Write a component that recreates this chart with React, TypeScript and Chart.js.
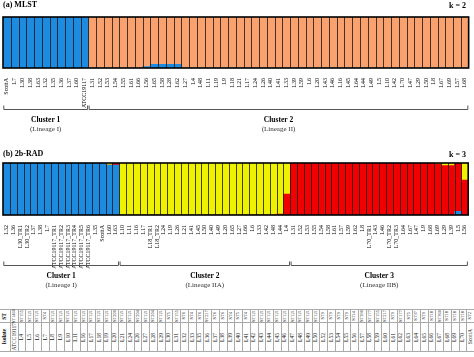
import React, { useEffect, useRef } from "react";
import { Chart, registerables } from "chart.js";
Chart.register(...registerables);

const FONT = '"Liberation Serif", "Times New Roman", Times, serif';
const BLUE = "#1C8BE0";
const ORANGE = "#F9A26F";
const YELLOW = "#EEF200";
const RED = "#F00000";

// ---------- (a) MLST, k = 2 ----------
const mlstLabels = [
  "ScottA", "L7", "L30", "L38", "L63", "L32", "L35", "L36", "L37", "L60", "ATCC19117",
  "L31", "L52", "L53", "L54", "L55", "L61", "L66", "L56", "L65", "L58", "L28", "L62", "L27",
  "L4", "L48", "L11", "L19", "L9", "L18", "L21", "L17", "L24", "L26", "L40", "L41", "L33",
  "L39", "L59", "L6", "L20", "L43", "L46", "L16", "L45", "L64", "L44", "L49", "L5", "L10",
  "L42", "L70", "L47", "L29", "L50", "L8", "L67", "L69", "L57", "L68",
];
const mlstBlue = [
  100, 100, 100, 100, 100, 100, 100, 100, 100, 100, 100,
  0, 0, 0, 0, 0, 0, 0, 3, 7, 7, 7, 7, 0,
  0, 0, 0, 0, 0, 0, 0, 0, 0, 0, 0, 0, 0,
  0, 0, 0, 0, 0, 0, 0, 0, 0, 0, 0, 0, 0,
  0, 0, 0, 0, 0, 0, 0, 0, 0, 0,
];
const mlstOrange = [
  0, 0, 0, 0, 0, 0, 0, 0, 0, 0, 0,
  100, 100, 100, 100, 100, 100, 100, 97, 93, 93, 93, 93, 100,
  100, 100, 100, 100, 100, 100, 100, 100, 100, 100, 100, 100, 100,
  100, 100, 100, 100, 100, 100, 100, 100, 100, 100, 100, 100, 100,
  100, 100, 100, 100, 100, 100, 100, 100, 100, 100,
];

// ---------- (b) 2b-RAD, k = 3 ----------
const radLabels = [
  "L32", "L36", "L30_TR1", "L30_TR2", "L37", "L38", "L7", "ATCC19117_TR1", "ATCC19117_TR2",
  "ATCC19117_TR3", "ATCC19117_TR4", "ATCC19117_TR5", "ATCC19117_TR6", "L35", "ScottA", "L60", "L63",
  "L10", "L11", "L16", "L17", "L18_TR1", "L18_TR2", "L24", "L19", "L26", "L21", "L41", "L45",
  "L50", "L40", "L49", "L20", "L65", "L27", "L66", "L6", "L33", "L42", "L48", "L44", "L4",
  "L31", "L52", "L53", "L55", "L54", "L58", "L61", "L57", "L59", "L62", "L8", "L70_TR1", "L43",
  "L46", "L70_TR2", "L70_TR3", "L64", "L67", "L47", "L9", "L68", "L69", "L29", "L39", "L5", "L56",
];
const radBlue = [
  100, 100, 100, 100, 100, 100, 100, 100, 100, 100, 100, 100, 100, 100, 100, 96, 96,
  0, 0, 0, 0, 0, 0, 0, 0, 0, 0, 0, 0, 0, 0, 0, 0, 0, 0, 0, 0, 0, 0, 0, 0, 0,
  0, 0, 0, 0, 0, 0, 0, 0, 0, 0, 0, 0, 0, 0, 0, 0, 0, 0, 0, 0, 0, 0, 0, 0, 7, 0,
];
const radRed = [
  0, 0, 0, 0, 0, 0, 0, 0, 0, 0, 0, 0, 0, 0, 0, 0, 4,
  0, 0, 0, 0, 0, 0, 0, 0, 0, 0, 0, 0, 0, 0, 0, 0, 0, 0, 0, 0, 0, 0, 0, 2, 40,
  100, 100, 100, 100, 100, 100, 100, 100, 100, 100, 100, 100, 100, 100, 100, 100, 100, 100, 100, 100, 100, 98, 95, 95, 93, 67,
];
const radYellow = [
  0, 0, 0, 0, 0, 0, 0, 0, 0, 0, 0, 0, 0, 0, 0, 4, 0,
  100, 100, 100, 100, 100, 100, 100, 100, 100, 100, 100, 100, 100, 100, 100, 100, 100, 100, 100, 100, 100, 100, 100, 98, 60,
  0, 0, 0, 0, 0, 0, 0, 0, 0, 0, 0, 0, 0, 0, 0, 0, 0, 0, 0, 0, 0, 2, 5, 5, 0, 33,
];

// ---------- table ----------
const tableIsolates = [
  "ATCC19117", "L4", "L5", "L6", "L7", "L8", "L9", "L10", "L11", "L16", "L17", "L18", "L19", "L20",
  "L21", "L24", "L26", "L27", "L28", "L29", "L30", "L31", "L32", "L33", "L35", "L36", "L37", "L38",
  "L39", "L40", "L41", "L42", "L43", "L44", "L45", "L46", "L47", "L48", "L49", "L50", "L52", "L53",
  "L54", "L55", "L56", "L57", "L58", "L59", "L60", "L61", "L62", "L63", "L64", "L65", "L66", "L67",
  "L68", "L69", "L70", "ScottA",
];
const tableST = [
  "ST1460", "ST155", "ST121", "ST121", "ST4", "ST121", "ST121", "ST121", "ST121", "ST121", "ST121",
  "ST121", "ST121", "ST200", "ST121", "ST121", "ST204", "ST121", "ST204", "ST121", "ST5", "ST155",
  "ST6", "ST4", "ST6", "ST217", "ST6", "ST6", "ST4", "ST5", "ST4", "ST121", "ST121", "ST121", "ST121",
  "ST121", "ST121", "ST121", "ST121", "ST121", "ST9", "ST9", "ST9", "ST9", "ST14", "ST390", "ST177",
  "ST155", "ST217", "ST9", "ST177", "ST5", "ST37", "ST9", "ST18", "ST360", "ST18", "ST18", "ST18", "ST2",
];

type Cluster = { from: number; to: number; name: string; lineage: string };
const mlstClusters: Cluster[] = [
  { from: 0, to: 10, name: "Cluster 1", lineage: "(Lineage I)" },
  { from: 11, to: 59, name: "Cluster 2", lineage: "(Lineage II)" },
];
const radClusters: Cluster[] = [
  { from: 0, to: 16, name: "Cluster 1", lineage: "(Lineage I)" },
  { from: 17, to: 41, name: "Cluster 2", lineage: "(Lineage IIA)" },
  { from: 42, to: 67, name: "Cluster 3", lineage: "(Lineage IIB)" },
];

type PanelProps = {
  top: number;
  height: number;
  padTop: number;
  plotBottom: number;
  labels: string[];
  datasets: { data: number[]; color: string }[];
  title: string;
  k: string;
  titleY: number;
  clusters: Cluster[];
  bracketY: number;
};

function Panel(p: PanelProps) {
  const ref = useRef<HTMLCanvasElement>(null);
  useEffect(() => {
    const n = p.labels.length;
    const decor = {
      id: "decor",
      afterDatasetsDraw(chart: any) {
        const { ctx, chartArea: a } = chart;
        const x = chart.scales.x;
        const w = a.width / n;
        ctx.save();
        ctx.strokeStyle = "#1b1410";
        ctx.lineWidth = 0.8;
        for (let i = 1; i < n; i++) {
          const px = Math.round(x.getPixelForTick(i) - w / 2) + 0.5;
          ctx.beginPath();
          ctx.moveTo(px, a.top);
          ctx.lineTo(px, a.bottom);
          ctx.stroke();
        }
        ctx.lineWidth = 1.6;
        ctx.strokeStyle = "#000";
        ctx.strokeRect(a.left, a.top, a.width, a.height);
        ctx.restore();
      },
      afterDraw(chart: any) {
        const { ctx, chartArea: a } = chart;
        const x = chart.scales.x;
        const w = a.width / n;
        ctx.save();
        ctx.fillStyle = "#000";
        ctx.textBaseline = "middle";
        ctx.font = `bold 8px ${FONT}`;
        ctx.textAlign = "left";
        ctx.fillText(p.title, 3, p.titleY);
        ctx.textAlign = "right";
        ctx.fillText(p.k, 466, p.titleY + 1);
        ctx.strokeStyle = "#555";
        ctx.lineWidth = 1;
        p.clusters.forEach((c) => {
          const xl = x.getPixelForTick(c.from) - w / 2 + 0.8;
          const xr = x.getPixelForTick(c.to) + w / 2 - 0.8;
          const y = p.bracketY + 0.5;
          ctx.beginPath();
          ctx.moveTo(xl, y - 4);
          ctx.lineTo(xl, y);
          ctx.lineTo(xr, y);
          ctx.lineTo(xr, y - 4);
          ctx.stroke();
          const cx = (xl + xr) / 2;
          ctx.textAlign = "center";
          ctx.fillStyle = "#000";
          ctx.font = `bold 7.5px ${FONT}`;
          ctx.fillText(c.name, cx, p.bracketY + 11);
          ctx.fillStyle = "#333";
          ctx.font = `7px ${FONT}`;
          ctx.fillText(c.lineage, cx, p.bracketY + 20);
        });
        ctx.restore();
      },
    };
    const chart = new Chart(ref.current as HTMLCanvasElement, {
      type: "bar",
      data: {
        labels: p.labels,
        datasets: p.datasets.map((d, i) => ({
          label: "K" + (i + 1),
          data: d.data,
          backgroundColor: d.color,
          borderWidth: 0,
          barPercentage: 1,
          categoryPercentage: 1,
        })),
      },
      options: {
        responsive: false,
        animation: false,
        layout: { padding: { left: 3, right: 4, top: p.padTop, bottom: 0 } },
        plugins: { legend: { display: false }, tooltip: { enabled: false } },
        scales: {
          x: {
            stacked: true,
            grid: { display: false },
            border: { display: false },
            ticks: {
              autoSkip: false,
              minRotation: 90,
              maxRotation: 90,
              padding: 2,
              color: "#000",
              font: { family: FONT, size: 6 },
            },
            afterFit: (s: any) => {
              s.height = p.height - p.plotBottom;
            },
          },
          y: { stacked: true, display: false, min: 0, max: 100 },
        },
      } as any,
      plugins: [decor],
    });
    return () => chart.destroy();
  }, []);
  return (
    <canvas
      ref={ref}
      width={474}
      height={p.height}
      style={{ position: "absolute", left: 0, top: p.top, width: 474, height: p.height }}
    />
  );
}

const vText: React.CSSProperties = {
  writingMode: "vertical-rl",
  transform: "rotate(180deg)",
  whiteSpace: "nowrap",
  lineHeight: 1,
  fontFamily: FONT,
  color: "#222",
};

function Table() {
  const cellBorder = "1px solid #aaa";
  return (
    <div
      style={{
        position: "absolute",
        left: 0,
        top: 309,
        width: 474,
        height: 43,
        display: "flex",
        borderTop: cellBorder,
        borderBottom: cellBorder,
        boxSizing: "border-box",
      }}
    >
      <div style={{ width: 10, display: "flex", flexDirection: "column" }}>
        <div style={{ height: 12, display: "flex", alignItems: "center", justifyContent: "center", borderBottom: cellBorder }}>
          <span style={{ ...vText, fontSize: 5.5, fontWeight: "bold", color: "#000" }}>ST</span>
        </div>
        <div style={{ flex: 1, display: "flex", alignItems: "center", justifyContent: "center" }}>
          <span style={{ ...vText, fontSize: 5.5, fontWeight: "bold", color: "#000" }}>Isolate</span>
        </div>
      </div>
      {tableIsolates.map((iso, i) => (
        <div key={iso} style={{ flex: 1, display: "flex", flexDirection: "column", borderLeft: cellBorder, minWidth: 0 }}>
          <div style={{ height: 12, display: "flex", alignItems: "center", justifyContent: "center", borderBottom: cellBorder }}>
            <span style={{ ...vText, fontSize: 4.5 }}>{tableST[i]}</span>
          </div>
          <div style={{ flex: 1, display: "flex", alignItems: "center", justifyContent: "center" }}>
            <span style={{ ...vText, fontSize: 5.5 }}>{iso}</span>
          </div>
        </div>
      ))}
    </div>
  );
}

export default function App() {
  return (
    <div style={{ position: "absolute", left: 0, top: 0, width: 474, height: 357, background: "#fff", overflow: "hidden" }}>
      <Panel
        top={0}
        height={140}
        padTop={17}
        plotBottom={68}
        labels={mlstLabels}
        datasets={[
          { data: mlstBlue, color: BLUE },
          { data: mlstOrange, color: ORANGE },
        ]}
        title="(a) MLST"
        k="k = 2"
        titleY={5}
        clusters={mlstClusters}
        bracketY={109}
      />
      <Panel
        top={140}
        height={160}
        padTop={23}
        plotBottom={75}
        labels={radLabels}
        datasets={[
          { data: radBlue, color: BLUE },
          { data: radRed, color: RED },
          { data: radYellow, color: YELLOW },
        ]}
        title="(b) 2b-RAD"
        k="k = 3"
        titleY={14}
        clusters={radClusters}
        bracketY={125}
      />
      <Table />
    </div>
  );
}
